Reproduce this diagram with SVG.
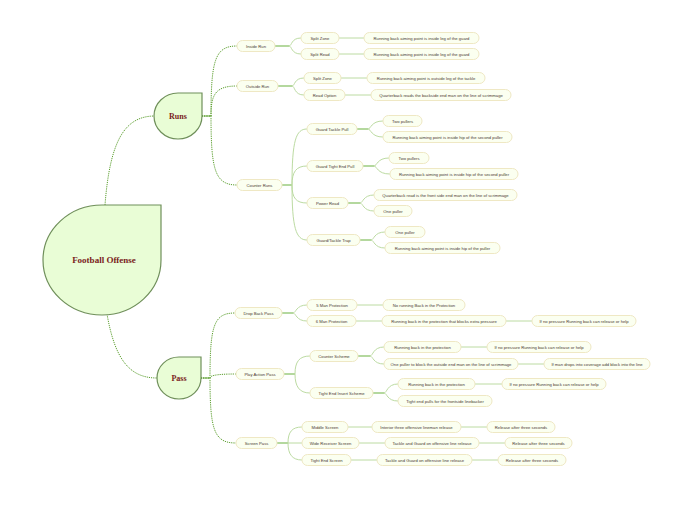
<svg xmlns="http://www.w3.org/2000/svg" width="697" height="520" viewBox="0 0 697 520">
<style>
.n{fill:#fbfff0;stroke:#efe8c4;stroke-width:1}
.t{font-family:"Liberation Sans",Arial,sans-serif;font-size:4.2px;fill:#4a3a30;text-anchor:middle;dominant-baseline:central}
.c{fill:none;stroke:#bcdba2;stroke-width:1}
.s{fill:none;stroke:#8cc36a;stroke-width:1.3}
.d{fill:none;stroke:#5a9e2c;stroke-width:1;stroke-dasharray:1.2 1}
.big{fill:#e9fdd6;stroke:#6f8f5a;stroke-width:1.2}
.bt{font-family:"Liberation Serif","DejaVu Serif",serif;font-weight:bold;fill:#7a1c1c;text-anchor:middle;dominant-baseline:central}
</style>
<rect width="697" height="520" fill="#fff"/>
<g id="connectors">
<path class="d" d="M105,205 C110,140 125,116 155,116"/>
<path class="d" d="M107,314 C115,360 130,378 157,378"/>
<path class="d" d="M202,116 H211 C211,60 215,46 237,46"/>
<path class="d" d="M202,116 H211 C211,95 215,86 237,86"/>
<path class="d" d="M202,116 H211 C211,170 215,185 237,185"/>
<path class="d" d="M201,378 H210 C210,325 214,313 235,313"/>
<path class="d" d="M201,378 H210 C210,376 214,374 236,374"/>
<path class="d" d="M201,378 H210 C210,430 214,443 236,443"/>
<path class="s" d="M275,46 H289"/><path class="c" d="M289,46 C292,46 291,38 301,38 M289,46 C292,46 291,54 301,54"/>
<path class="c" d="M339,38 H364 M339,54 H364"/>
<path class="s" d="M278,86 H292"/><path class="c" d="M292,86 C295,86 294,78 304,78 M292,86 C295,86 294,95 304,95"/>
<path class="c" d="M341,78 H367 M345,95 H371"/>
<path class="s" d="M282,185 H292"/>
<path class="c" d="M292,185 C292,140 296,129 307,129 M292,185 C292,172 296,166 307,166 M292,185 C292,198 296,203 307,203 M292,185 C292,228 296,240 307,240"/>
<path class="s" d="M357,129 H368"/><path class="c" d="M368,129 C371,129 371,121 383,121 M368,129 C371,129 371,137 383,137"/>
<path class="s" d="M363,166 H374"/><path class="c" d="M374,166 C377,166 377,158 389,158 M374,166 C377,166 377,174 390,174"/>
<path class="s" d="M348,203 H360"/><path class="c" d="M360,203 C363,203 363,195 374,195 M360,203 C363,203 363,211 374,211"/>
<path class="s" d="M360,240 H371"/><path class="c" d="M371,240 C374,240 374,232 385,232 M371,240 C374,240 374,248 385,248"/>
<path class="s" d="M282,313 H293"/><path class="c" d="M293,313 C296,313 296,305 307,305 M293,313 C296,313 296,321 307,321"/>
<path class="c" d="M357,305 H383 M356,321 H382 M506,321 H532"/>
<path class="s" d="M284,374 H295"/><path class="c" d="M295,374 C295,362 299,356 310,356 M295,374 C295,386 299,393 310,393"/>
<path class="s" d="M358,356 H370"/><path class="c" d="M370,356 C373,356 373,347 384,347 M370,356 C373,356 373,364 384,364"/>
<path class="c" d="M461,347 H487 M518,364 H544"/>
<path class="s" d="M373,393 H384"/><path class="c" d="M384,393 C387,393 387,384 398,384 M384,393 C387,393 387,401 398,401"/>
<path class="c" d="M475,384 H502"/>
<path class="s" d="M277,443 H288"/><path class="c" d="M288,443 C288,432 292,427 302,427 M288,443 H302 M288,443 C288,454 292,460 302,460"/>
<path class="c" d="M348,427 H372 M461,427 H487 M359,443 H385 M479,443 H505 M351,460 H377 M472,460 H498"/>
</g>
<g id="root"><path class="big" d="M102,205 H161 V260 A59,55 0 1 1 102,205 Z"/><text class="bt" x="104" y="260" font-size="9">Football Offense</text></g>
<g id="runs"><path class="big" d="M178,93 H202 V116 A24,23 0 1 1 178,93 Z"/><text class="bt" x="178" y="116" font-size="8">Runs</text></g>
<g id="pass"><path class="big" d="M179,357 H201 V378 A22,21 0 1 1 179,357 Z"/><text class="bt" x="179" y="378" font-size="8">Pass</text></g>
<g id="n1"><rect class="n" x="237" y="40.5" width="38" height="11" rx="5.5"/><text class="t" x="256" y="46">Inside Run</text></g>
<g id="n2"><rect class="n" x="301" y="32.5" width="38" height="11" rx="5.5"/><text class="t" x="320" y="38">Split Zone</text></g>
<g id="n3"><rect class="n" x="364" y="32.5" width="115" height="11" rx="5.5"/><text class="t" x="421.5" y="38">Running back aiming point is inside leg of the guard</text></g>
<g id="n4"><rect class="n" x="301" y="48.5" width="38" height="11" rx="5.5"/><text class="t" x="320" y="54">Split Read</text></g>
<g id="n5"><rect class="n" x="364" y="48.5" width="115" height="11" rx="5.5"/><text class="t" x="421.5" y="54">Running back aiming point is inside leg of the guard</text></g>
<g id="n6"><rect class="n" x="237" y="80.5" width="41" height="11" rx="5.5"/><text class="t" x="257.5" y="86">Outside Run</text></g>
<g id="n7"><rect class="n" x="304" y="72.5" width="37" height="11" rx="5.5"/><text class="t" x="322.5" y="78">Split Zone</text></g>
<g id="n8"><rect class="n" x="367" y="72.5" width="118" height="11" rx="5.5"/><text class="t" x="426" y="78">Running back aiming point is outside leg of the tackle</text></g>
<g id="n9"><rect class="n" x="304" y="89.5" width="41" height="11" rx="5.5"/><text class="t" x="324.5" y="95">Read Option</text></g>
<g id="n10"><rect class="n" x="371" y="89.5" width="140" height="11" rx="5.5"/><text class="t" x="441" y="95">Quarterback reads the backside end man on the line of scrimmage</text></g>
<g id="n11"><rect class="n" x="237" y="179.5" width="45" height="11" rx="5.5"/><text class="t" x="259.5" y="185">Counter Runs</text></g>
<g id="n12"><rect class="n" x="307" y="123.5" width="50" height="11" rx="5.5"/><text class="t" x="332" y="129">Guard Tackle Pull</text></g>
<g id="n13"><rect class="n" x="383" y="115.5" width="39" height="11" rx="5.5"/><text class="t" x="402.5" y="121">Two pullers</text></g>
<g id="n14"><rect class="n" x="383" y="131.5" width="129" height="11" rx="5.5"/><text class="t" x="447.5" y="137">Running back aiming point is inside hip of the second puller</text></g>
<g id="n15"><rect class="n" x="307" y="160.5" width="56" height="11" rx="5.5"/><text class="t" x="335" y="166">Guard Tight End Pull</text></g>
<g id="n16"><rect class="n" x="389" y="152.5" width="40" height="11" rx="5.5"/><text class="t" x="409" y="158">Two pullers</text></g>
<g id="n17"><rect class="n" x="390" y="168.5" width="128" height="11" rx="5.5"/><text class="t" x="454" y="174">Running back aiming point is inside hip of the second puller</text></g>
<g id="n18"><rect class="n" x="307" y="197.5" width="41" height="11" rx="5.5"/><text class="t" x="327.5" y="203">Power Read</text></g>
<g id="n19"><rect class="n" x="374" y="189.5" width="143" height="11" rx="5.5"/><text class="t" x="445.5" y="195">Quarterback read is the front side end man on the line of scrimmage</text></g>
<g id="n20"><rect class="n" x="374" y="205.5" width="38" height="11" rx="5.5"/><text class="t" x="393" y="211">One puller</text></g>
<g id="n21"><rect class="n" x="307" y="234.5" width="53" height="11" rx="5.5"/><text class="t" x="333.5" y="240">Guard/Tackle Trap</text></g>
<g id="n22"><rect class="n" x="385" y="226.5" width="40" height="11" rx="5.5"/><text class="t" x="405" y="232">One puller</text></g>
<g id="n23"><rect class="n" x="385" y="242.5" width="115" height="11" rx="5.5"/><text class="t" x="442.5" y="248">Running back aiming point is inside hip of the puller</text></g>
<g id="n24"><rect class="n" x="235" y="307.5" width="47" height="11" rx="5.5"/><text class="t" x="258.5" y="313">Drop Back Pass</text></g>
<g id="n25"><rect class="n" x="307" y="299.5" width="50" height="11" rx="5.5"/><text class="t" x="332" y="305">5 Man Protection</text></g>
<g id="n26"><rect class="n" x="383" y="299.5" width="82" height="11" rx="5.5"/><text class="t" x="424" y="305">No running Back in the Protection</text></g>
<g id="n27"><rect class="n" x="307" y="315.5" width="49" height="11" rx="5.5"/><text class="t" x="331.5" y="321">6 Man Protection</text></g>
<g id="n28"><rect class="n" x="382" y="315.5" width="124" height="11" rx="5.5"/><text class="t" x="444" y="321">Running back in the protection that blocks extra pressure</text></g>
<g id="n29"><rect class="n" x="532" y="315.5" width="104" height="11" rx="5.5"/><text class="t" x="584" y="321">If no pressure Running back can release or help</text></g>
<g id="n30"><rect class="n" x="236" y="368.5" width="48" height="11" rx="5.5"/><text class="t" x="260" y="374">Play Action Pass</text></g>
<g id="n31"><rect class="n" x="310" y="350.5" width="48" height="11" rx="5.5"/><text class="t" x="334" y="356">Counter Scheme</text></g>
<g id="n32"><rect class="n" x="384" y="341.5" width="77" height="11" rx="5.5"/><text class="t" x="422.5" y="347">Running back in the protection</text></g>
<g id="n33"><rect class="n" x="487" y="341.5" width="104" height="11" rx="5.5"/><text class="t" x="539" y="347">If no pressure Running back can release or help</text></g>
<g id="n34"><rect class="n" x="384" y="358.5" width="134" height="11" rx="5.5"/><text class="t" x="451" y="364">One puller to block the outside end man on the line of scrimmage</text></g>
<g id="n35"><rect class="n" x="544" y="358.5" width="106" height="11" rx="5.5"/><text class="t" x="597" y="364">If man drops into coverage add block into the line</text></g>
<g id="n36"><rect class="n" x="310" y="387.5" width="63" height="11" rx="5.5"/><text class="t" x="341.5" y="393">Tight End Insert Scheme</text></g>
<g id="n37"><rect class="n" x="398" y="378.5" width="77" height="11" rx="5.5"/><text class="t" x="436.5" y="384">Running back in the protection</text></g>
<g id="n38"><rect class="n" x="502" y="378.5" width="104" height="11" rx="5.5"/><text class="t" x="554" y="384">If no pressure Running back can release or help</text></g>
<g id="n39"><rect class="n" x="398" y="395.5" width="94" height="11" rx="5.5"/><text class="t" x="445" y="401">Tight end pulls for the frontside linebacker</text></g>
<g id="n40"><rect class="n" x="236" y="437.5" width="41" height="11" rx="5.5"/><text class="t" x="256.5" y="443">Screen Pass</text></g>
<g id="n41"><rect class="n" x="302" y="421.5" width="46" height="11" rx="5.5"/><text class="t" x="325" y="427">Middle Screen</text></g>
<g id="n42"><rect class="n" x="372" y="421.5" width="89" height="11" rx="5.5"/><text class="t" x="416.5" y="427">Interior three offensive lineman release</text></g>
<g id="n43"><rect class="n" x="487" y="421.5" width="68" height="11" rx="5.5"/><text class="t" x="521" y="427">Release after three seconds</text></g>
<g id="n44"><rect class="n" x="302" y="437.5" width="57" height="11" rx="5.5"/><text class="t" x="330.5" y="443">Wide Receiver Screen</text></g>
<g id="n45"><rect class="n" x="385" y="437.5" width="94" height="11" rx="5.5"/><text class="t" x="432" y="443">Tackle and Guard on offensive line release</text></g>
<g id="n46"><rect class="n" x="505" y="437.5" width="67" height="11" rx="5.5"/><text class="t" x="538.5" y="443">Release after three seconds</text></g>
<g id="n47"><rect class="n" x="302" y="454.5" width="49" height="11" rx="5.5"/><text class="t" x="326.5" y="460">Tight End Screen</text></g>
<g id="n48"><rect class="n" x="377" y="454.5" width="95" height="11" rx="5.5"/><text class="t" x="424.5" y="460">Tackle and Guard on offensive line release</text></g>
<g id="n49"><rect class="n" x="498" y="454.5" width="68" height="11" rx="5.5"/><text class="t" x="532" y="460">Release after three seconds</text></g>
</svg>
